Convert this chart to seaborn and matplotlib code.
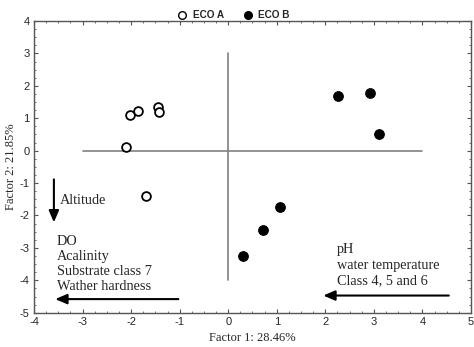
import matplotlib
matplotlib.use("Agg")
import matplotlib.pyplot as plt
from matplotlib.ticker import MultipleLocator
from matplotlib.lines import Line2D
import seaborn as sns
import pandas as pd

eco_a_x = [-2.02, -1.85, -1.45, -1.42, -2.11, -1.69]
eco_a_y = [1.11, 1.22, 1.36, 1.19, 0.10, -1.40]
eco_b_x = [2.26, 2.91, 3.10, 1.06, 0.72, 0.30]
eco_b_y = [1.69, 1.78, 0.52, -1.73, -2.45, -3.25]
groups = ["ECO A", "ECO B"]

df = pd.DataFrame({
    "x": eco_a_x + eco_b_x,
    "y": eco_a_y + eco_b_y,
    "group": [groups[0]] * len(eco_a_x) + [groups[1]] * len(eco_b_x),
})

sns.set_style("white")
plt.rcParams["axes.unicode_minus"] = False
fig = plt.figure(figsize=(4.74, 3.47), dpi=100)
ax = fig.add_axes([0.0717, 0.0988, 0.922, 0.8407])

ax.plot([0, 0], [-4, 3], color="#808080", lw=1.2, zorder=1)
ax.plot([-3, 4], [0, 0], color="#808080", lw=1.2, zorder=1)

sns.scatterplot(data=df[df.group == groups[0]], x="x", y="y", ax=ax, s=40,
                marker="o", facecolor="white", edgecolor="black", linewidth=1.3, zorder=3, legend=False)
sns.scatterplot(data=df[df.group == groups[1]], x="x", y="y", ax=ax, s=48,
                marker="o", color="black", edgecolor="black", linewidth=0.8, zorder=3, legend=False)

ax.set_xlim(-4, 5)
ax.set_ylim(-5, 4)
ax.xaxis.set_major_locator(MultipleLocator(1))
ax.yaxis.set_major_locator(MultipleLocator(1))
ax.xaxis.set_minor_locator(MultipleLocator(0.25))
ax.yaxis.set_minor_locator(MultipleLocator(0.25))
ax.tick_params(which="both", direction="in", top=True, right=True, bottom=True, left=True,
               color="#555555", labelsize=8, pad=3)
ax.tick_params(which="major", length=3, width=0.8)
ax.tick_params(which="minor", length=1.5, width=0.6)
for lab in ax.get_xticklabels() + ax.get_yticklabels():
    lab.set_family("Liberation Sans")
for sp in ax.spines.values():
    sp.set_color("#555555")
    sp.set_linewidth(1.0)

serif = "Liberation Serif"
ax.set_xlabel("Factor 1: 28.46%", family=serif, fontsize=9, labelpad=4)
ax.set_ylabel("Factor 2: 21.85%", family=serif, fontsize=9, labelpad=2)

arrowprops = dict(arrowstyle="-|>,head_length=0.7,head_width=0.3", color="black", lw=1.5)
ax.annotate("", xy=(-3.59, -2.3), xytext=(-3.59, -0.8), arrowprops=arrowprops)
ax.annotate("", xy=(-3.62, -4.58), xytext=(-0.97, -4.58), arrowprops=arrowprops)
ax.annotate("", xy=(1.9, -4.47), xytext=(4.6, -4.47), arrowprops=arrowprops)

fs = 10.3
ax.text(-3.46, -1.55, "Altitude", family=serif, fontsize=fs, va="center", ha="left")
ax.text(-3.53, -2.6, "DO\nAcalinity\nSubstrate class 7\nWather hardness", family=serif,
        fontsize=fs, va="top", ha="left", linespacing=1.2)
ax.text(2.24, -2.86, "pH\nwater temperature\nClass 4, 5 and 6", family=serif,
        fontsize=fs, va="top", ha="left", linespacing=1.22)

handles = [
    Line2D([], [], marker="o", ls="", markerfacecolor="white", markeredgecolor="black", markersize=5.5, markeredgewidth=1),
    Line2D([], [], marker="o", ls="", markerfacecolor="black", markeredgecolor="black", markersize=5.5),
]
fig.legend(handles, groups, loc="center", bbox_to_anchor=(0.487, 0.956), ncol=2, frameon=False,
           prop={"family": "Liberation Sans", "weight": "bold", "size": 7.2}, handletextpad=0.05,
           columnspacing=1.4)

fig.savefig("out.png", dpi=100)
